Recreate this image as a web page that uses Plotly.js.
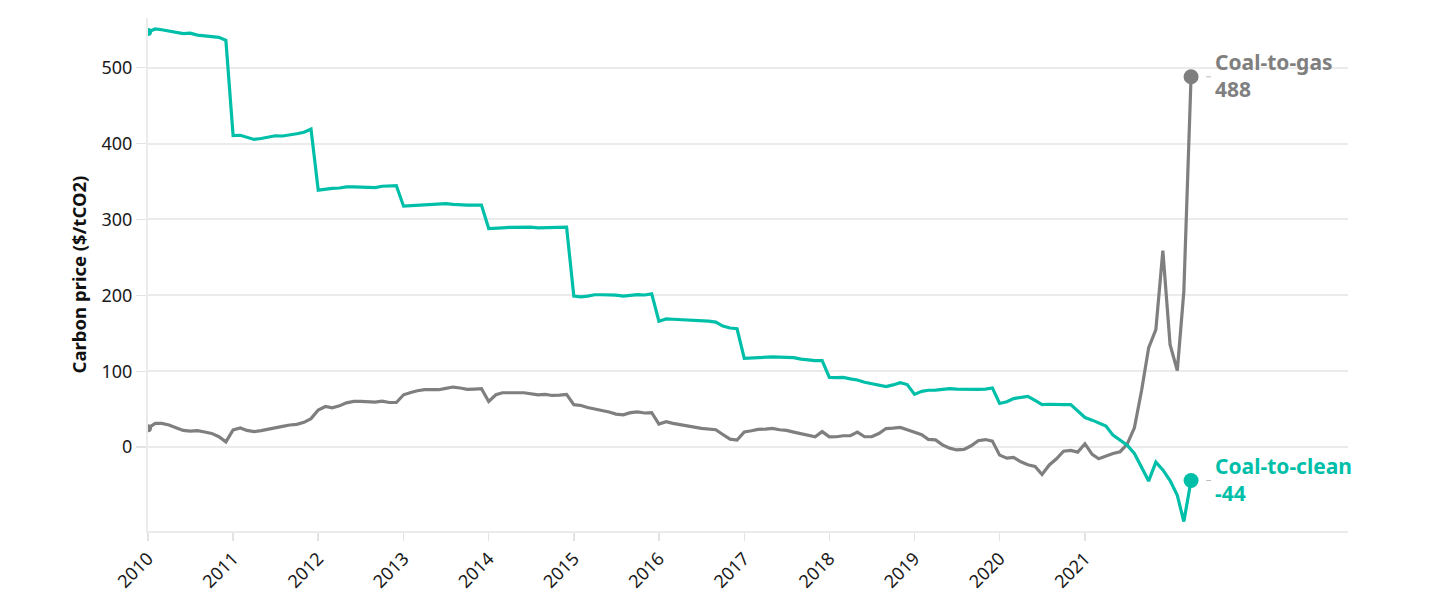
<!DOCTYPE html>
<html>
<head>
<meta charset="utf-8">
<script src="https://cdn.plot.ly/plotly-3.0.1.min.js"></script>
<style>
  html, body { margin: 0; padding: 0; background: #ffffff; }
  #chart { width: 1456px; height: 609px; }
</style>
</head>
<body>
<div id="chart"></div>
<script>
// Monthly carbon price needed for coal-to-gas and coal-to-clean switching, $/tCO2
const startYear = 2010;
const startMonth = 1;

const coalToClean = [
  547, 551, 550, 548, 546, 545, 545.5, 543, 542, 541, 540, 536,
  410.6, 411, 408, 405.5, 406.7, 408, 410.3, 410, 411, 413, 415, 419,
  338.6, 340, 341, 341.5, 343, 343, 343, 342, 342, 343.8, 344, 344.5,
  317.5, 318, 319, 320, 320, 321, 321, 320, 319, 319, 319, 319,
  288, 289, 289, 289.5, 290, 290, 290, 289, 289, 290, 290, 290,
  199, 198, 199, 200.8, 200.8, 200.8, 200.3, 199, 200, 201, 200.5, 202,
  166, 169, 168.5, 168, 167.5, 167, 167, 166, 164.7, 159.5, 157, 156,
  117, 117.5, 118.6, 119, 119, 118.6, 118, 118, 116, 114.7, 114, 114,
  91.8, 91.5, 92, 90, 88.5, 85.5, 83.8, 82.5, 79.8, 82, 85, 82.5,
  69.5, 73.5, 75, 75.2, 76, 77, 76.5, 76, 75.8, 76, 76.5, 78,
  57.5, 59.8, 64, 66, 67, 61.5, 56, 56.5, 55.7, 56, 56, 47,
  39, 35.6, 32, 27.7, 15.8, 8.8, 2.7, -8.3, -26, -44.7, -19.7, -30,
  -44, -63.6, -98, -44
];

const coalToGas = [
  25, 31.4, 31.4, 29.2, 25.7, 22, 21.2, 21.7, 20, 18.1, 13.7, 7,
  22.6, 25.2, 22, 20.4, 21.7, 23.9, 25.7, 27.4, 29.2, 30, 32.7, 37.6,
  49, 53.5, 51.8, 54.4, 58.4, 60.2, 60.2, 59.7, 59.3, 60.6, 58.8, 58.8,
  69, 72, 74.3, 75.7, 75.2, 75.7, 77.4, 79.2, 77.9, 76.1, 76.5, 77,
  60.2, 69, 71.7, 71.2, 71.7, 71.7, 70.4, 69, 69.5, 68.1, 68.6, 69.5,
  56, 54.9, 52.2, 50.5, 49, 46.3, 43.5, 42.5, 45.4, 46.5, 45, 45.5,
  30.4, 33.5, 31.3, 30, 28.6, 26.4, 24.7, 23.8, 23, 16.7, 10.5, 9.3,
  20, 21.6, 23.3, 23.8, 24.7, 22.9, 22, 19.8, 18, 15.4, 13.7, 20.5,
  13.5, 13.7, 15, 15, 19.8, 13.7, 13.7, 18, 24.5, 25, 26, 22.9,
  20, 16.3, 10.3, 9.5, 3, -1.3, -3.7, -3, 1.8, 8.4, 10, 8,
  -10.5, -14.5, -13.6, -19.3, -23.2, -25.5, -36, -23.5, -15.4, -5.3, -4.4, -6.6,
  4.4, -9.6, -15.4, -11.5, -8.4, -6, 4, 25.4, 75, 130.7, 154.8, 259,
  135, 101, 205, 488
];

const seriesNames = ['Coal-to-gas', 'Coal-to-clean'];
const seriesColors = ['#7f7f7f', '#00bfa9'];
const tickYears = ['2010', '2011', '2012', '2013', '2014', '2015',
                   '2016', '2017', '2018', '2019', '2020', '2021'];
const yTicks = [0, 100, 200, 300, 400, 500];

// month-start dates for each observation
function monthDates(n) {
  const out = [];
  for (let i = 0; i < n; i++) {
    const m = startMonth - 1 + i;
    const y = startYear + Math.floor(m / 12);
    const mm = String((m % 12) + 1).padStart(2, '0');
    out.push(y + '-' + mm + '-01');
  }
  return out;
}

const FONT = 'Noto Sans, Lato, sans-serif';
const dates = monthDates(coalToGas.length);

function lineTrace(name, values, color) {
  const n = values.length;
  return {
    type: 'scatter',
    mode: 'lines+markers',
    name: name,
    x: dates,
    y: values,
    line: { color: color, width: 3.2 },
    marker: {
      color: color,
      opacity: 1,
      size: values.map((v, i) => (i === 0 ? 8 : (i === n - 1 ? 15 : 0))),
      line: { width: 0 }
    },
    cliponaxis: true,
    hoverinfo: 'skip'
  };
}

const series = [coalToGas, coalToClean];
const traces = series.map((vals, k) => lineTrace(seriesNames[k], vals, seriesColors[k]));

// end-of-line labels: name above the latest value, with a short leader dash
const annotations = [];
const shapes = [];
series.forEach((vals, k) => {
  const lastX = dates[dates.length - 1];
  const lastY = vals[vals.length - 1];
  annotations.push({
    x: lastX, y: lastY, xref: 'x', yref: 'y',
    xanchor: 'left', yanchor: 'middle', align: 'left',
    showarrow: false, xshift: 22, yshift: 1,
    text: seriesNames[k] + '<br>' + String(Math.round(lastY)),
    font: { family: FONT, size: 21, color: seriesColors[k], weight: 700 }
  });
  shapes.push({
    type: 'line', xref: 'x', yref: 'y', xsizemode: 'pixel',
    xanchor: lastX, x0: 15, x1: 20, y0: lastY, y1: lastY,
    line: { color: '#bdbdbd', width: 1 }
  });
});

const layout = {
  width: 1456,
  height: 609,
  margin: { l: 148, r: 108, t: 18, b: 78 },
  paper_bgcolor: '#ffffff',
  plot_bgcolor: '#ffffff',
  showlegend: false,
  font: { family: FONT, size: 18, color: '#1a1a1a' },
  xaxis: {
    type: 'date',
    range: ['2010-01-01', '2024-02-03'],
    tickvals: tickYears.map(y => y + '-01-01'),
    ticktext: tickYears,
    tickangle: -45,
    ticks: 'outside',
    ticklen: 8,
    tickcolor: '#e3e3e3',
    tickwidth: 1.5,
    showgrid: false,
    showline: true,
    linecolor: '#ebebeb',
    linewidth: 2,
    zeroline: false,
    tickfont: { family: FONT, size: 18, color: '#1a1a1a' },
    automargin: false
  },
  yaxis: {
    range: [-110.5, 565.5],
    tickvals: yTicks,
    ticks: 'outside',
    ticklen: 10,
    tickcolor: '#e3e3e3',
    tickwidth: 1.5,
    showgrid: true,
    gridcolor: '#ebebeb',
    gridwidth: 2,
    showline: true,
    linecolor: '#ebebeb',
    linewidth: 2,
    zeroline: false,
    tickfont: { family: FONT, size: 18, color: '#1a1a1a' },
    title: {
      text: 'Carbon price ($/tCO2)',
      font: { family: FONT, size: 18.5, color: '#111111', weight: 700 },
      standoff: 10
    },
    automargin: false
  },
  annotations: annotations,
  shapes: shapes
};

Plotly.newPlot('chart', traces, layout, { displayModeBar: false, staticPlot: true });
</script>
</body>
</html>
